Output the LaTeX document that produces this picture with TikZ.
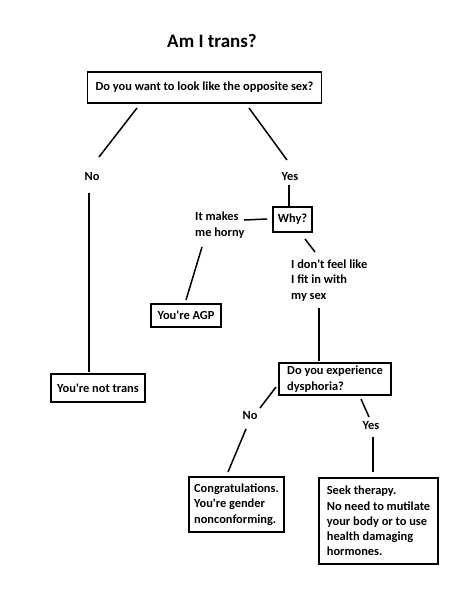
\documentclass[tikz,border=0pt]{standalone}
\usepackage{fontspec}
\setmainfont{Carlito}
\newcommand{\apo}{\textquotesingle}
\begin{document}
\begin{tikzpicture}[x=1pt,y=-1pt,
  every node/.style={font=\fontsize{12.4}{15.3}\selectfont\bfseries},
  lbl/.style={inner sep=0pt, align=flush left},
  box/.style={draw, line width=1.5pt, inner sep=0pt, align=flush left},
  conn/.style={line width=1.5pt}]
\useasboundingbox (0,0) rectangle (474,595);
% title
\node[lbl, font=\fontsize{19}{22}\selectfont\bfseries] (title) at (212,41) {Am I trans?};
% boxes
\node[box, minimum width=234pt, minimum height=31pt] (q1) at (204.5,87.5) {Do you want to look like the opposite sex?};
\node[box, minimum width=39pt, minimum height=25pt] (why) at (292.5,219.5) {Why?};
\node[box, minimum width=70pt, minimum height=23pt] (agp) at (186,315.5) {You\apo re AGP};
\node[box, minimum width=94pt, minimum height=28pt] (nottrans) at (98,388) {You\apo re not trans};
\node[box, minimum width=112pt, minimum height=32pt] (dys) at (335,379) {Do you experience\\dysphoria?};
\node[box, minimum width=95pt, minimum height=55pt] (congr) at (236.5,504.5) {Congratulations.\\You\apo re gender\\nonconforming.};
\node[box, minimum width=119pt, minimum height=86pt] (seek) at (378.5,521) {Seek therapy.\\No need to mutilate\\your body or to use\\health damaging\\hormones.};
% labels
\node[lbl] (no1) at (92,177) {No};
\node[lbl] (yes1) at (290,177) {Yes};
\node[lbl, anchor=west] (horny) at (195,225) {It makes\\me horny};
\node[lbl, anchor=west] (fit) at (291,280.5) {I don\apo t feel like\\I fit in with\\my sex};
\node[lbl] (no2) at (250,416) {No};
\node[lbl] (yes2) at (371,426) {Yes};
% connector end points
\coordinate (a1) at (137,108); \coordinate (a2) at (99,157);
\coordinate (b1) at (249,108); \coordinate (b2) at (287,160);
\coordinate (c1) at (89,193);  \coordinate (c2) at (89,372);
\coordinate (d1) at (289,185); \coordinate (d2) at (289,206);
\coordinate (e1) at (267,219); \coordinate (e2) at (244,220);
\coordinate (f1) at (202,247); \coordinate (f2) at (186,300);
\coordinate (g1) at (305,239); \coordinate (g2) at (315,252);
\coordinate (h1) at (319,308); \coordinate (h2) at (319,361);
\coordinate (i1) at (276,387); \coordinate (i2) at (260,408);
\coordinate (j1) at (246,429); \coordinate (j2) at (228,472);
\coordinate (k1) at (361,399); \coordinate (k2) at (369,417);
\coordinate (l1) at (373,437); \coordinate (l2) at (373,472);
\draw[conn] (a1) -- (a2);
\draw[conn] (b1) -- (b2);
\draw[conn] (c1) -- (c2);
\draw[conn] (d1) -- (d2);
\draw[conn] (e1) -- (e2);
\draw[conn] (f1) -- (f2);
\draw[conn] (g1) -- (g2);
\draw[conn] (h1) -- (h2);
\draw[conn] (i1) -- (i2);
\draw[conn] (j1) -- (j2);
\draw[conn] (k1) -- (k2);
\draw[conn] (l1) -- (l2);
\end{tikzpicture}
\end{document}
